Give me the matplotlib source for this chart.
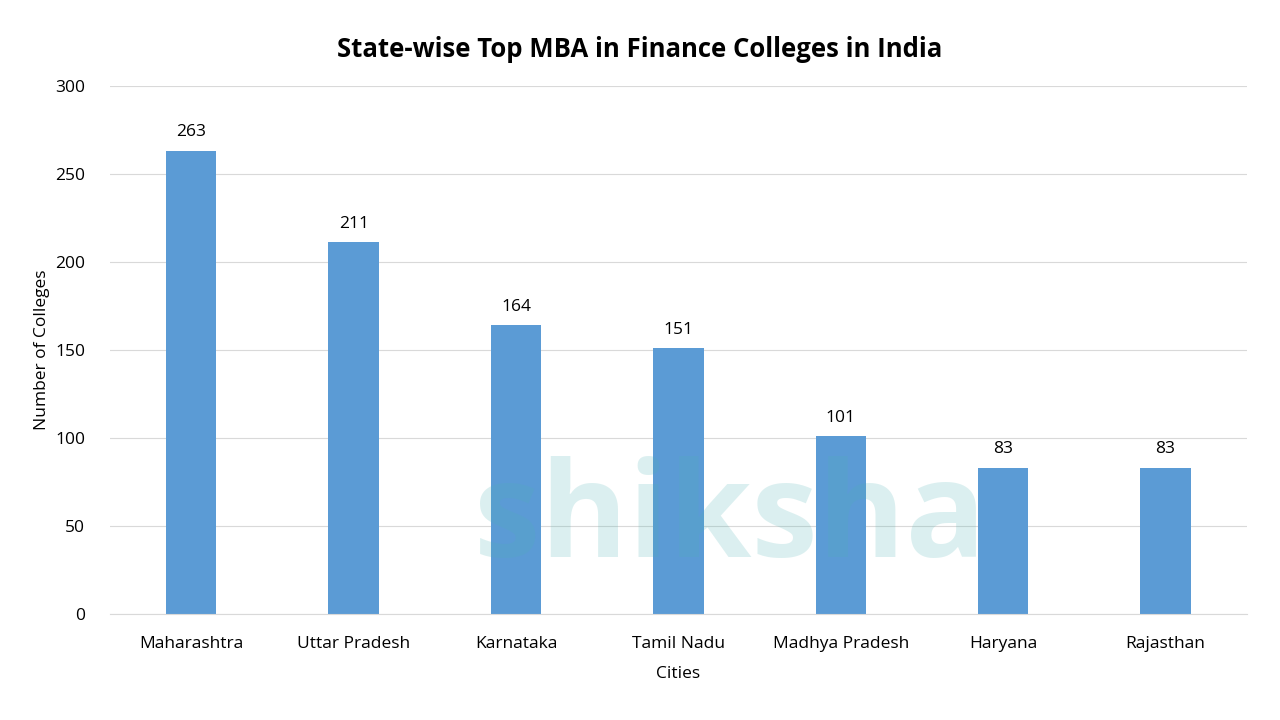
import matplotlib
matplotlib.use("Agg")
import matplotlib.pyplot as plt

states = ["Maharashtra", "Uttar Pradesh", "Karnataka", "Tamil Nadu",
          "Madhya Pradesh", "Haryana", "Rajasthan"]
colleges = [263, 211, 164, 151, 101, 83, 83]
y_ticks = [0, 50, 100, 150, 200, 250, 300]

plt.rcParams['font.family'] = ['Open Sans', 'DejaVu Sans']

fig = plt.figure(figsize=(12.8, 7.2), dpi=100)
ax = fig.add_axes([0.086, 0.147, 0.888, 0.734])

# faint watermark, kept below the value labels
fig.text(0.57, 0.275, "shiksha", fontsize=96, color="#4fb3b5", alpha=0.2,
         ha="center", va="center", fontweight="bold", zorder=0)

x = range(len(states))
ax.bar(x, colleges, width=0.31, color="#5b9bd5", zorder=2)
for xi, v in zip(x, colleges):
    ax.text(xi, v + 6, str(v), ha="center", va="bottom", fontsize=12.5, color="#000000")

ax.set_ylim(0, 300)
ax.set_xlim(-0.5, len(states) - 0.5)
ax.set_yticks(y_ticks)
ax.set_xticks(list(x))
ax.set_xticklabels(states)
ax.tick_params(axis="both", length=0, labelsize=12.5, colors="#000000")
ax.tick_params(axis="y", pad=18)
ax.tick_params(axis="x", pad=16)
ax.grid(axis="y", color="#d9d9d9", linewidth=0.8, zorder=0)
for s in ["top", "right", "left"]:
    ax.spines[s].set_visible(False)
ax.spines["bottom"].set_color("#d9d9d9")
ax.set_facecolor("none")

ax.set_ylabel("Number of Colleges", fontsize=12.5, labelpad=4)
ax.set_xlabel("Cities", fontsize=12.5, labelpad=10)
fig.suptitle("State-wise Top MBA in Finance Colleges in India", fontsize=18.5,
             fontweight="bold", y=0.95)

fig.savefig("out.png", dpi=100)
